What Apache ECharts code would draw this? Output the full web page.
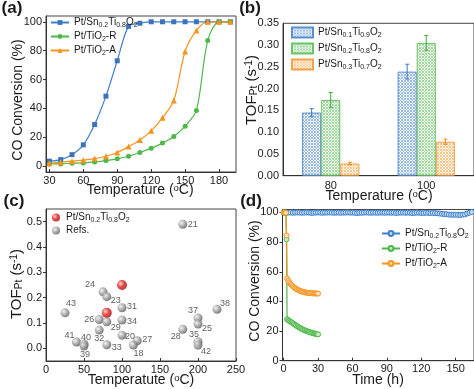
<!DOCTYPE html>
<html><head><meta charset="utf-8">
<script src="https://cdn.jsdelivr.net/npm/echarts@6/dist/echarts.min.js"></script>
<style>html,body{margin:0;padding:0;background:#fff}#c{width:474px;height:389px}</style>
</head><body><div id="c"></div>
<script>
const FONT = '"Liberation Sans", Arial, Helvetica, sans-serif';
// ---------- (a) light-off curves ----------
const aTemp = [30,40,50,60,70,80,90,100,110,120,130,140,150,160,170,180,190];
const aSn02 = [3.5,4.6,8,14.8,28.9,48.5,73,96.8,99,100,100,100,100,100,100,100,100];
const aTiR  = [1.6,1.6,2.1,2.3,3,3.9,5.1,6.9,9.5,12.5,16,20.6,27.7,38.6,87,100,100];
const aTiA  = [2,2.8,3.5,4.2,5.3,6.9,9.5,13.6,18.2,24.5,33.5,45.5,79.4,94,100,100,100];
const aXTicks = [30,60,90,120,150,180];
const aYTicks = [0,20,40,60,80,100];
// ---------- (b) TOF bars ----------
const bTemp = ['80','100'];
const bSn01 = [0.145,0.239], bSn01Err = [0.009,0.017];
const bSn02 = [0.174,0.305], bSn02Err = [0.017,0.017];
const bSn03 = [0.028,0.078], bSn03Err = [0.003,0.006];
// ---------- (c) literature comparison ----------
const cMineT = [80,100];
const cMineTOF = [0.14,0.25];
const cRefId  = ['21','24','23','31','43','26','29','34','32','20','27','18','33','41','40','39','28','37','25','35','42','38'];
const cRefT   = [180,75,80,100,25,70,80,100,70,100,120,115,80,40,50,50,180,200,200,200,200,225];
const cRefTOF = [0.49,0.223,0.204,0.16,0.14,0.114,0.105,0.112,0.072,0.052,0.03,0.013,0.014,0.025,0.017,0.009,0.075,0.12,0.096,0.026,0.013,0.154];
const cYTicks = [0,0.1,0.2,0.3,0.4,0.5];
// ---------- (d) stability ----------
const dTimeSn = [0,2,4,6,8,10,12,14,16,18,20,22,24,26,28,30,32,34,36,38,40,42,44,46,48,50,52,54,56,58,60,62,64,66,68,70,72,74,76,78,80,82,84,86,88,90,92,94,96,98,100,102,104,106,108,110,112,114,116,118,120,122,124,126,128,130,132,134,136,138,140,142,144,146,148,150,152,154,156,158,160,162,164];
const dSn02 = [100,100,99.9,100,99.8,99.9,100,99.9,99.8,99.9,
  100,99.9,99.7,99.8,99.9,100,99.9,99.8,99.9,99.9,
  100,99.9,99.8,99.9,99.9,99.8,99.9,99.9,100,99.9,
  99.9,99.8,99.6,99.8,99.8,99.9,100,99.9,99.8,99.9,
  99.9,99.8,99.9,99.9,99.8,99.9,99.9,99.8,99.9,99.7,
  99.8,99.9,99.9,99.8,99.9,99.8,99.6,99.7,99.9,99.8,
  99.7,99.6,99.8,99.7,99.6,99.7,99.6,99.5,99.3,99.1,
  98.9,98.8,98.6,98.5,98.4,98.5,98.4,98.3,98.5,98.7,
  99.3,99.8,100.3];
const dTime = [0,1,2,2.5,3,4,5,6,7,8,9,10,11,12,13,14,15,16,17,18,19,20,21,22,23,24,25,26,27,28,29,30];
const dTiR = [100,100,99.5,82,28,27.3,26.8,26.3,25.8,25.3,24.7,24.2,23.7,23.2,22.7,22.2,21.8,21.4,21,20.6,20.3,20,19.7,19.4,19.2,18.9,18.7,18.5,18.3,18.1,17.9,17.8];
const dTiA = [100,100,99.8,84.5,55.5,54,52.8,51.8,51,50.2,49.5,48.9,48.4,48,47.6,47.2,46.9,46.6,46.4,46.2,46,45.9,45.8,45.7,45.6,45.5,45.5,45.4,45.4,45.4,45.3,45.3];
const dXTicks = [0,30,60,90,120,150];
const dYTicks = [0,20,40,60,80,100];

// ---------- styles ----------
const BLUE = '#3f80cc', GREEN = '#4db848', ORANGE = '#f7931e';
const TXT = '#1a1a1a';
const zip = (x, y) => x.map((v, i) => [v, y[i]]);

function pattern(color) {
  const c = document.createElement('canvas'); c.width = 3; c.height = 3;
  const g = c.getContext('2d');
  g.fillStyle = '#ffffff'; g.fillRect(0, 0, 3, 3);
  g.globalAlpha = 0.55; g.fillStyle = color;
  [[0,0],[1,1],[2,2],[2,0],[0,2]].forEach(p => g.fillRect(p[0], p[1], 1, 1));
  return {image: c, repeat: 'repeat'};
}
const richSub = {
  s: {fontSize: 7, lineHeight: 6, verticalAlign: 'bottom', fontFamily: FONT, color: TXT}
};
const legendNames = {
  a1: 'Pt/Sn{s|0.2}Ti{s|0.8}O{s|2}', a2: 'Pt/TiO{s|2}-R', a3: 'Pt/TiO{s|2}-A',
  b1: 'Pt/Sn{s|0.1}Ti{s|0.9}O{s|2}', b2: 'Pt/Sn{s|0.2}Ti{s|0.8}O{s|2}', b3: 'Pt/Sn{s|0.3}Ti{s|0.7}O{s|2}',
  c1: 'Pt/Sn{s|0.2}Ti{s|0.8}O{s|2}', c2: 'Refs.',
  d1: 'Pt/Sn{s|0.2}Ti{s|0.8}O{s|2}', d2: 'Pt/TiO{s|2}-R', d3: 'Pt/TiO{s|2}-A'
};
function legend(names, left, top, extra) {
  return Object.assign({
    data: names, left, top, orient: 'vertical', itemGap: 1, itemWidth: 18, itemHeight: 6,
    padding: 0, selectedMode: false,
    formatter: n => legendNames[n],
    textStyle: {fontSize: 10, fontFamily: FONT, color: TXT, lineHeight: 13, rich: richSub}
  }, extra || {});
}
const axisBase = {
  axisLine: {show: true, onZero: false, lineStyle: {color: '#333', width: 1}},
  axisLabel: {color: TXT, fontSize: 11, fontFamily: FONT, margin: 4},
  splitLine: {show: false}
};
function vAxis(o) { return Object.assign({type: 'value'}, JSON.parse(JSON.stringify(axisBase)), o); }
const gridBase = {show: true, borderColor: '#444', borderWidth: 1, backgroundColor: 'transparent'};

const sphereGrey = {type: 'radial', x: 0.35, y: 0.35, r: 0.75, colorStops: [
  {offset: 0, color: '#eeeeee'}, {offset: 0.5, color: '#9c9c9c'}, {offset: 1, color: '#4a4a4a'}]};
const sphereRed = {type: 'radial', x: 0.35, y: 0.35, r: 0.75, colorStops: [
  {offset: 0, color: '#ffc8c8'}, {offset: 0.45, color: '#e52222'}, {offset: 1, color: '#9a0000'}]};

const cLabelOffset = {
  '21':[10,0],'24':[-13,-7],'23':[9,4],'31':[10,-1],'43':[6,-9],'26':[-10,0],'29':[9,6],
  '34':[10,2],'32':[0,8],'20':[8,1],'27':[10,-1],'18':[5,8],'33':[10,3],'41':[-7,-6],
  '40':[2,-7],'39':[1,8],'28':[-7,7],'37':[-5,-7],'25':[9,5],'35':[-4,-7],'42':[8,6],'38':[8,-6]
};

const errColors = ['#3a78c2', '#46a842', '#ee8a1a'];
function errorSeries() {
  const data = [];
  [[bSn01, bSn01Err], [bSn02, bSn02Err], [bSn03, bSn03Err]].forEach((p, s) => {
    p[0].forEach((v, i) => data.push([i, v, p[1][i], s]));
  });
  return {
    type: 'custom', xAxisIndex: 1, yAxisIndex: 1, data, z: 5, silent: true,
    dimensions: ['x', 'y', 'e', 's'], encode: {x: 0, y: 1},
    renderItem(params, api) {
      const i = api.value(0), v = api.value(1), e = api.value(2), s = api.value(3);
      const band = api.size([1, 0])[0];
      const x = api.coord([i, v])[0] + (s - 1) * 0.2 * band;
      const yT = api.coord([i, v + e])[1], yB = api.coord([i, v - e])[1];
      const st = {stroke: errColors[s], lineWidth: 1};
      return {type: 'group', children: [
        {type: 'line', shape: {x1: x, y1: yT, x2: x, y2: yB}, style: st},
        {type: 'line', shape: {x1: x - 2, y1: yT, x2: x + 2, y2: yT}, style: st},
        {type: 'line', shape: {x1: x - 2, y1: yB, x2: x + 2, y2: yB}, style: st}
      ]};
    }
  };
}

function gText(text, x, y, size, rot, bold) {
  return {
    type: 'text', x, y, rotation: rot ? Math.PI / 2 : 0, silent: true,
    style: {
      text, fontSize: size, fontFamily: FONT, fontWeight: bold ? 'bold' : 'normal', fill: TXT,
      align: 'center', verticalAlign: 'middle', textAlign: 'center', textVerticalAlign: 'middle',
      rich: {
        sub: {fontSize: size * 0.68, lineHeight: size * 0.5, verticalAlign: 'bottom', fontFamily: FONT, fill: TXT, color: TXT},
        sup: {fontSize: size * 0.68, lineHeight: size * 0.5, verticalAlign: 'top', fontFamily: FONT, fill: TXT, color: TXT},
        n: {fontSize: size, lineHeight: size * 1.3, fontFamily: FONT, fill: TXT, color: TXT}
      }
    }
  };
}

const option = {
  animation: false,
  backgroundColor: '#fff',
  textStyle: {fontFamily: FONT},
  grid: [
    Object.assign({left: 46, top: 16, width: 190, height: 156}, gridBase),
    Object.assign({left: 283, top: 23.3, width: 193, height: 152.4}, gridBase),
    Object.assign({left: 46, top: 209, width: 190, height: 152}, gridBase),
    Object.assign({left: 282.5, top: 209.5, width: 193, height: 151.2}, gridBase)
  ],
  xAxis: [
    vAxis({gridIndex: 0, min: 27, max: 195,
      axisLabel: Object.assign({}, axisBase.axisLabel, {customValues: aXTicks, margin: 3}),
      axisTick: {inside: true, length: 3, customValues: aXTicks, lineStyle: {color: '#333'}}}),
    Object.assign({type: 'category', gridIndex: 1, data: bTemp}, JSON.parse(JSON.stringify(axisBase)),
      {axisTick: {inside: true, length: 3, lineStyle: {color: '#333'}},
       axisLabel: {color: TXT, fontSize: 11, fontFamily: FONT, margin: 5}}),
    vAxis({gridIndex: 2, min: 0, max: 250, interval: 50,
      axisTick: {inside: true, length: 3, lineStyle: {color: '#333'}},
      axisLabel: Object.assign({}, axisBase.axisLabel, {margin: 3})}),
    vAxis({gridIndex: 3, min: -1, max: 166,
      axisLabel: Object.assign({}, axisBase.axisLabel, {customValues: dXTicks, margin: 3}),
      axisTick: {inside: true, length: 3, customValues: dXTicks, lineStyle: {color: '#333'}}})
  ],
  yAxis: [
    vAxis({gridIndex: 0, min: -4, max: 104,
      axisLabel: Object.assign({}, axisBase.axisLabel, {customValues: aYTicks}),
      axisTick: {length: 3, customValues: aYTicks, lineStyle: {color: '#333'}}}),
    vAxis({gridIndex: 1, min: 0, max: 0.35, interval: 0.05,
      axisLabel: Object.assign({}, axisBase.axisLabel, {formatter: v => v.toFixed(2)}),
      axisTick: {length: 3, lineStyle: {color: '#333'}}}),
    vAxis({gridIndex: 2, min: -0.05, max: 0.55,
      axisLabel: Object.assign({}, axisBase.axisLabel, {customValues: cYTicks, formatter: v => Number(v).toFixed(1)}),
      axisTick: {length: 3, customValues: cYTicks, lineStyle: {color: '#333'}}}),
    vAxis({gridIndex: 3, min: 0, max: 102,
      axisLabel: Object.assign({}, axisBase.axisLabel, {customValues: dYTicks}),
      axisTick: {length: 3, customValues: dYTicks, lineStyle: {color: '#333'}}})
  ],
  legend: [
    legend(['a1', 'a2', 'a3'], 50, 16),
    legend(['b1', 'b2', 'b3'], 291, 26, {itemWidth: 21, itemHeight: 10, icon: 'rect', itemGap: 3}),
    legend(['c1', 'c2'], 52, 211, {itemWidth: 10, itemHeight: 8, itemGap: 0}),
    legend(['d1', 'd2', 'd3'], 381, 227, {itemGap: 2})
  ],
  series: [
    {name: 'a1', type: 'line', xAxisIndex: 0, yAxisIndex: 0, data: zip(aTemp, aSn02), smooth: 0.3,
      symbol: 'rect', symbolSize: 5, lineStyle: {color: BLUE, width: 1.2}, itemStyle: {color: '#3a74bb'}},
    {name: 'a2', type: 'line', xAxisIndex: 0, yAxisIndex: 0, data: zip(aTemp, aTiR), smooth: 0.3,
      symbol: 'circle', symbolSize: 5, lineStyle: {color: GREEN, width: 1.2}, itemStyle: {color: GREEN}},
    {name: 'a3', type: 'line', xAxisIndex: 0, yAxisIndex: 0, data: zip(aTemp, aTiA), smooth: 0.3,
      symbol: 'triangle', symbolSize: 6, lineStyle: {color: ORANGE, width: 1.2}, itemStyle: {color: ORANGE}},

    {name: 'b1', type: 'bar', xAxisIndex: 1, yAxisIndex: 1, data: bSn01, barGap: '0%', barCategoryGap: '40%',
      itemStyle: {color: pattern('#3f80cc'), borderColor: '#5a90d0', borderWidth: 1}},
    {name: 'b2', type: 'bar', xAxisIndex: 1, yAxisIndex: 1, data: bSn02, barGap: '0%', barCategoryGap: '40%',
      itemStyle: {color: pattern('#4db848'), borderColor: '#6cc266', borderWidth: 1}},
    {name: 'b3', type: 'bar', xAxisIndex: 1, yAxisIndex: 1, data: bSn03, barGap: '0%', barCategoryGap: '40%',
      itemStyle: {color: pattern('#f7931e'), borderColor: '#f5a04a', borderWidth: 1}},
    errorSeries(),

    {name: 'c2', type: 'scatter', xAxisIndex: 2, yAxisIndex: 2, symbolSize: 9,
      data: cRefT.map((t, i) => ({value: [t, cRefTOF[i]], name: cRefId[i],
        label: {offset: cLabelOffset[cRefId[i]]}})),
      itemStyle: {color: sphereGrey},
      label: {show: true, position: 'inside', formatter: p => p.name, fontSize: 9, color: '#333', fontFamily: FONT}},
    {name: 'c1', type: 'scatter', xAxisIndex: 2, yAxisIndex: 2, symbolSize: 10, z: 3,
      data: zip(cMineT, cMineTOF), itemStyle: {color: sphereRed}},

    {name: 'd1', type: 'line', xAxisIndex: 3, yAxisIndex: 3, data: zip(dTimeSn, dSn02),
      symbol: 'circle', symbolSize: 5, lineStyle: {color: BLUE, width: 1.2},
      itemStyle: {color: '#c5dbf3', borderColor: BLUE, borderWidth: 1}},
    {name: 'd2', type: 'line', xAxisIndex: 3, yAxisIndex: 3, data: zip(dTime, dTiR),
      symbol: 'circle', symbolSize: 5, lineStyle: {color: GREEN, width: 1.2},
      itemStyle: {color: '#c9ecc6', borderColor: GREEN, borderWidth: 1}},
    {name: 'd3', type: 'line', xAxisIndex: 3, yAxisIndex: 3, data: zip(dTime, dTiA),
      symbol: 'circle', symbolSize: 5, lineStyle: {color: ORANGE, width: 1.2},
      itemStyle: {color: '#fde0bd', borderColor: ORANGE, borderWidth: 1}}
  ],
  graphic: [
    gText('(a)', 12, 8, 17, false, true),
    gText('(b)', 250, 8, 17, false, true),
    gText('(c)', 14, 201, 17, false, true),
    gText('(d)', 251, 201, 17, false, true),
    Object.assign(gText('CO Conversion (%)', 18, 100, 14, true), {rotation: Math.PI / 2}),
    gText('Temperature ({sup|o}C)', 140, 190.5, 14),
    gText('TOF{sub|Pt} (s{sup|-1})', 252, 90, 15, true),
    gText('Temperature ({sup|o}C)', 379, 196, 14),
    gText('TOF{sub|Pt} (s{sup|-1})', 17, 284, 15, true),
    gText('Temperatute ({sup|o}C)', 141, 380, 14),
    gText('CO Conversion (%)', 255, 281, 14, true),
    gText('Time (h)', 378, 380, 14)
  ]
};
const chart = echarts.init(document.getElementById('c'), null, {renderer: 'canvas'});
chart.setOption(option);
</script></body></html>
